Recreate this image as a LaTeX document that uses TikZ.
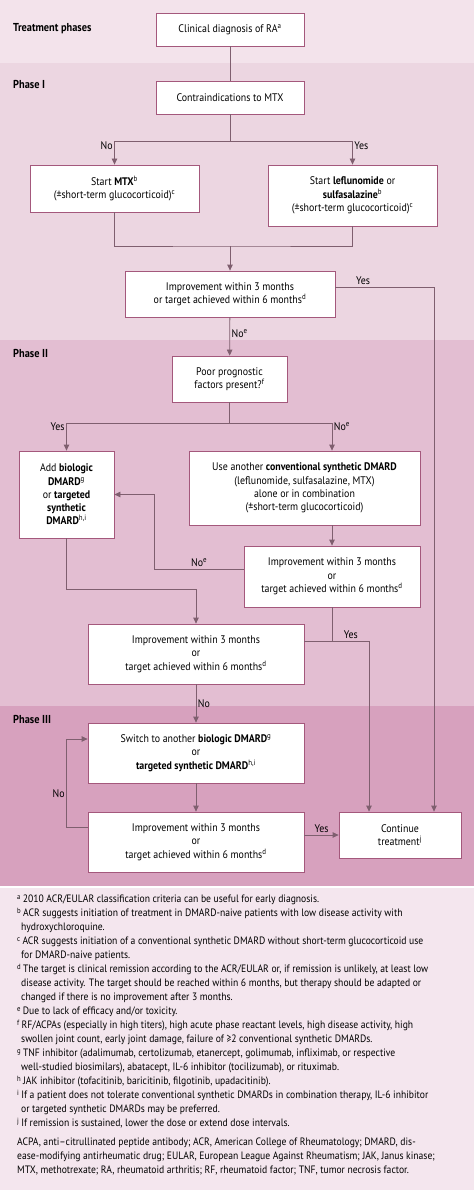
\documentclass[tikz,border=0pt]{standalone}
\usepackage{fontspec}
\setmainfont{PT Sans}[FakeStretch=0.9]
\usetikzlibrary{arrows.meta}

\definecolor{bandtop}{HTML}{F3E3EB}
\definecolor{bandone}{HTML}{ECD6E1}
\definecolor{bandtwo}{HTML}{E3BED2}
\definecolor{bandthree}{HTML}{D7A1BE}
\definecolor{bandnote}{HTML}{F4E6EE}
\definecolor{boxline}{HTML}{A4587C}
\definecolor{connline}{HTML}{7F5F6F}

\begin{document}
\begin{tikzpicture}[
    x=1pt, y=-1pt,
    box/.style={
        rectangle, draw=boxline, fill=white, line width=0.8pt,
        align=center, inner sep=2pt,
        font=\fontsize{11}{13.3}\selectfont
    },
    link/.style={draw=connline, line width=0.8pt},
    arrow/.style={link, -{Triangle[length=6pt,width=5.5pt]}},
    lbl/.style={font=\fontsize{11}{13}\selectfont, inner sep=1.5pt},
    phase/.style={font=\bfseries\fontsize{11.5}{13}\selectfont, anchor=west, inner sep=0pt}
]
\useasboundingbox (0,0) rectangle (474,1190);

% Bands
\fill[bandtop]   (0,0)   rectangle (474,63);
\fill[bandone]   (0,63)  rectangle (474,340);
\fill[bandtwo]   (0,340) rectangle (474,706);
\fill[bandthree] (0,706) rectangle (474,886);
\fill[white]     (0,886) rectangle (474,888);
\fill[bandnote]  (0,888) rectangle (474,1190);

\node[phase] (P0) at (13,29)  {Treatment phases};
\node[phase] (P1) at (13,85)  {Phase I};
\node[phase] (P2) at (13,353) {Phase II};
\node[phase] (P3) at (13,719) {Phase III};

% Blocks
\node[box, minimum width=148pt, minimum height=33pt] (diag)   at (230,29.5) {Clinical diagnosis of RA\textsuperscript{a}};
\node[box, minimum width=148pt, minimum height=33pt] (contra) at (230,97.5) {Contraindications to MTX};
\node[box, minimum width=169pt, minimum height=47pt] (mtx)    at (114.5,188.5) {Start \textbf{MTX}\textsuperscript{b}\\(±short-term glucocorticoid)\textsuperscript{c}};
\node[box, minimum width=169pt, minimum height=61pt] (lef)    at (352.5,195.5) {Start \textbf{leflunomide} or\\\textbf{sulfasalazine}\textsuperscript{b}\\(±short-term glucocorticoid)\textsuperscript{c}};
\node[box, minimum width=210pt, minimum height=46pt] (impI)   at (230,294) {Improvement within 3 months\\or target achieved within 6 months\textsuperscript{d}};
\node[box, minimum width=115pt, minimum height=46pt] (poor)   at (229.5,379) {Poor prognostic\\factors present?\textsuperscript{f}};
\node[box, minimum width=95pt,  minimum height=87pt] (addbio) at (66.5,494.5) {Add \textbf{biologic}\\\textbf{DMARD}\textsuperscript{g}\\or \textbf{targeted}\\\textbf{synthetic}\\\textbf{DMARD}\textsuperscript{h,i}};
\node[box, minimum width=231pt, minimum height=74pt] (csd)    at (304.5,488) {Use another \textbf{conventional synthetic DMARD}\\(leflunomide, sulfasalazine, MTX)\\alone or in combination\\(±short-term glucocorticoid)};
\node[box, minimum width=176pt, minimum height=61pt] (impIIa) at (332,576.5) {Improvement within 3 months\\or\\target achieved within 6 months\textsuperscript{d}};
\node[box, minimum width=216pt, minimum height=60pt] (impIIb) at (196,654) {Improvement within 3 months\\or\\target achieved within 6 months\textsuperscript{d}};
\node[box, minimum width=216pt, minimum height=60pt] (switch) at (196,753) {Switch to another \textbf{biologic DMARD}\textsuperscript{g}\\or\\\textbf{targeted synthetic DMARD}\textsuperscript{h,i}};
\node[box, minimum width=216pt, minimum height=60pt] (impIII) at (196,842) {Improvement within 3 months\\or\\target achieved within 6 months\textsuperscript{d}};
\node[box, minimum width=122pt, minimum height=46pt] (cont)   at (400,835) {Continue\\treatment\textsuperscript{j}};

% Edges, phase I
\draw[link] (diag) -- (contra);
\draw[arrow] (contra.south) -- ++(0,27) -| (mtx.north) node[lbl, pos=0.5, anchor=east, yshift=-4pt] {No};
\draw[arrow] (contra.south) -- ++(0,27) -| (lef.north) node[lbl, pos=0.5, anchor=west, yshift=-4pt] {Yes};
\coordinate (mergeI) at (230,246);
\draw[link] (mtx.south) |- (mergeI) -| (lef.south);
\draw[arrow] (mergeI) -- (impI.north);
\draw[arrow] ([yshift=7pt]impI.east) -| ([xshift=34pt]cont.north) node[lbl, pos=0.14, above] {Yes};
\draw[arrow] (impI) -- (poor) node[lbl, midway, anchor=west, yshift=3pt] {No\textsuperscript{e}};

% Edges, phase II
\draw[arrow] (poor.south) -- ++(0,21) -| (addbio.north) node[lbl, pos=0.5, anchor=east, yshift=-3pt] {Yes};
\draw[arrow] (poor.south) -- ++(0,21) -| (csd.north -| impIIa) node[lbl, pos=0.5, anchor=west, yshift=-3pt] {No\textsuperscript{e}};
\draw[arrow] (csd.south -| impIIa) -- (impIIa.north);
\draw[arrow] ([yshift=7.5pt]impIIa.west) -- ++(-89,0) node[lbl, midway, above] {No\textsuperscript{e}} |- (addbio.east);
\draw[arrow] (addbio.south) -- ++(0,51) -| (impIIb.north);
\coordinate (yesII) at ([yshift=13pt]impIIb.east);
\draw[link] (impIIa.south) -- (impIIa.south |- yesII);
\draw[arrow] (yesII) -| ([xshift=-31pt]cont.north) node[lbl, pos=0.36, above] {Yes};
\draw[arrow] (impIIb) -- (switch) node[lbl, midway, right] {No};

% Edges, phase III
\draw[arrow] (switch) -- (impIII);
\draw[arrow] ([yshift=15pt]impIII.west) -- ++(-21,0) |- ([yshift=14pt]switch.west) node[lbl, pos=0.19, left] {No};
\draw[arrow] (impIII.east |- cont.west) -- (cont.west) node[lbl, midway, above] {Yes};

% Footnotes
\node[anchor=north west, inner sep=0pt, align=left, font=\fontsize{10.7}{14}\selectfont] (notes) at (17,895) {%
\textsuperscript{a}\,2010 ACR/EULAR classification criteria can be useful for early diagnosis.\\
\textsuperscript{b}\,ACR suggests initiation of treatment in DMARD-naive patients with low disease activity with\\
\hspace*{4pt}hydroxychloroquine.\\
\textsuperscript{c}\,ACR suggests initiation of a conventional synthetic DMARD without short-term glucocorticoid use\\
\hspace*{4pt}for DMARD-naive patients.\\
\textsuperscript{d}\,The target is clinical remission according to the ACR/EULAR or, if remission is unlikely, at least low\\
\hspace*{4pt}disease activity. The target should be reached within 6 months, but therapy should be adapted or\\
\hspace*{4pt}changed if there is no improvement after 3 months.\\
\textsuperscript{e}\,Due to lack of efficacy and/or toxicity.\\
\textsuperscript{f}\,RF/ACPAs (especially in high titers), high acute phase reactant levels, high disease activity, high\\
\hspace*{4pt}swollen joint count, early joint damage, failure of ≥2 conventional synthetic DMARDs.\\
\textsuperscript{g}\,TNF inhibitor (adalimumab, certolizumab, etanercept, golimumab, infliximab, or respective\\
\hspace*{4pt}well-studied biosimilars), abatacept, IL-6 inhibitor (tocilizumab), or rituximab.\\
\textsuperscript{h}\,JAK inhibitor (tofacitinib, baricitinib, filgotinib, upadacitinib).\\
\textsuperscript{i}\,If a patient does not tolerate conventional synthetic DMARDs in combination therapy, IL-6 inhibitor\\
\hspace*{4pt}or targeted synthetic DMARDs may be preferred.\\
\textsuperscript{j}\,If remission is sustained, lower the dose or extend dose intervals.\\[5pt]
ACPA, anti–citrullinated peptide antibody; ACR, American College of Rheumatology; DMARD, dis-\\
ease-modifying antirheumatic drug; EULAR, European League Against Rheumatism; JAK, Janus kinase;\\
MTX, methotrexate; RA, rheumatoid arthritis; RF, rheumatoid factor; TNF, tumor necrosis factor.};

\end{tikzpicture}
\end{document}
